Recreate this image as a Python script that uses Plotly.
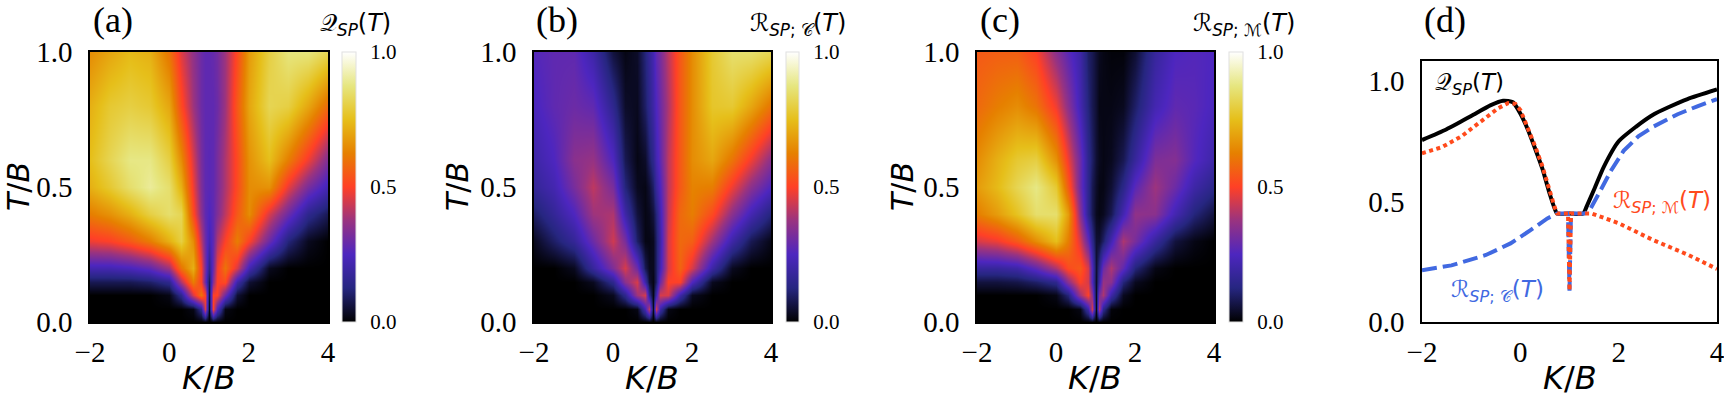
import plotly.graph_objects as go

W, H = 1724, 397

# ---------------- data ----------------
K_GRID = [-2, -1.5, -1, -0.5, 0, 0.3, 0.6, 0.8, 0.9, 1.0, 1.1, 1.2, 1.4, 1.7, 2, 2.5, 3, 3.5, 4]
T_GRID = [0, 0.05, 0.1, 0.15, 0.2, 0.3, 0.4, 0.5, 0.6, 0.8, 1.0]

Q_ROWS = [
    [0, 0, 0, 0, 0, 0, 0, 0, 0, 0, 0, 0, 0, 0, 0, 0, 0, 0, 0],
    [0, 0, 0, 0, 0, 0, 0.02, 0.15, 0.45, 0.02, 0.5, 0.25, 0.02, 0, 0, 0, 0, 0, 0],
    [0, 0, 0, 0, 0.02, 0.15, 0.45, 0.6, 0.5, 0.05, 0.5, 0.5, 0.3, 0.05, 0, 0, 0, 0, 0],
    [0.08, 0.08, 0.08, 0.1, 0.15, 0.4, 0.62, 0.5, 0.3, 0.08, 0.35, 0.5, 0.52, 0.2, 0.05, 0, 0, 0, 0],
    [0.22, 0.22, 0.24, 0.28, 0.38, 0.6, 0.72, 0.5, 0.32, 0.15, 0.3, 0.48, 0.6, 0.45, 0.22, 0.03, 0, 0, 0],
    [0.48, 0.5, 0.55, 0.62, 0.72, 0.8, 0.65, 0.42, 0.3, 0.22, 0.28, 0.4, 0.5, 0.62, 0.5, 0.3, 0.12, 0.03, 0],
    [0.62, 0.66, 0.72, 0.8, 0.85, 0.82, 0.52, 0.35, 0.28, 0.25, 0.28, 0.33, 0.42, 0.55, 0.65, 0.45, 0.3, 0.15, 0.08],
    [0.72, 0.78, 0.85, 0.9, 0.85, 0.72, 0.48, 0.33, 0.28, 0.27, 0.28, 0.32, 0.4, 0.52, 0.65, 0.66, 0.47, 0.32, 0.22],
    [0.75, 0.82, 0.88, 0.88, 0.8, 0.65, 0.45, 0.32, 0.28, 0.27, 0.28, 0.32, 0.4, 0.52, 0.66, 0.75, 0.62, 0.48, 0.33],
    [0.72, 0.78, 0.8, 0.78, 0.7, 0.52, 0.38, 0.3, 0.28, 0.28, 0.28, 0.3, 0.38, 0.55, 0.7, 0.82, 0.8, 0.7, 0.58],
    [0.65, 0.7, 0.74, 0.72, 0.6, 0.46, 0.36, 0.3, 0.28, 0.28, 0.29, 0.31, 0.38, 0.52, 0.68, 0.8, 0.87, 0.87, 0.82],
]

RC_ROWS = [
    [0, 0, 0, 0, 0, 0, 0, 0, 0, 0, 0, 0, 0, 0, 0, 0, 0, 0, 0],
    [0, 0, 0, 0, 0, 0, 0.02, 0.22, 0.42, 0.03, 0.45, 0.2, 0.02, 0, 0, 0, 0, 0, 0],
    [0, 0, 0, 0, 0.03, 0.15, 0.38, 0.45, 0.15, 0.02, 0.2, 0.45, 0.45, 0.2, 0.03, 0, 0, 0, 0],
    [0, 0, 0, 0.03, 0.15, 0.35, 0.45, 0.2, 0.05, 0.02, 0.1, 0.3, 0.5, 0.5, 0.25, 0.03, 0, 0, 0],
    [0, 0, 0.03, 0.18, 0.33, 0.45, 0.3, 0.08, 0.03, 0.03, 0.1, 0.22, 0.45, 0.57, 0.45, 0.2, 0.03, 0, 0],
    [0.03, 0.1, 0.17, 0.3, 0.44, 0.32, 0.1, 0.02, 0.02, 0.03, 0.1, 0.2, 0.45, 0.58, 0.56, 0.38, 0.2, 0.08, 0.02],
    [0.1, 0.17, 0.25, 0.38, 0.4, 0.2, 0.06, 0.02, 0.03, 0.06, 0.12, 0.22, 0.43, 0.58, 0.62, 0.52, 0.35, 0.22, 0.12],
    [0.17, 0.22, 0.32, 0.42, 0.32, 0.12, 0.03, 0.02, 0.05, 0.1, 0.18, 0.25, 0.42, 0.55, 0.63, 0.62, 0.48, 0.35, 0.25],
    [0.2, 0.25, 0.35, 0.37, 0.25, 0.08, 0.02, 0.04, 0.1, 0.15, 0.22, 0.28, 0.42, 0.55, 0.65, 0.7, 0.6, 0.48, 0.35],
    [0.24, 0.28, 0.3, 0.28, 0.15, 0.04, 0.03, 0.1, 0.15, 0.2, 0.25, 0.3, 0.4, 0.55, 0.65, 0.77, 0.78, 0.7, 0.6],
    [0.26, 0.28, 0.28, 0.2, 0.06, 0.02, 0.04, 0.12, 0.17, 0.22, 0.28, 0.32, 0.42, 0.55, 0.65, 0.78, 0.85, 0.85, 0.82],
]

RM_ROWS = [
    [0, 0, 0, 0, 0, 0, 0, 0, 0, 0, 0, 0, 0, 0, 0, 0, 0, 0, 0],
    [0, 0, 0, 0, 0, 0, 0.02, 0.2, 0.45, 0.02, 0.4, 0.15, 0.01, 0, 0, 0, 0, 0, 0],
    [0, 0, 0, 0, 0.02, 0.12, 0.38, 0.5, 0.35, 0.03, 0.32, 0.4, 0.2, 0.03, 0, 0, 0, 0, 0],
    [0.06, 0.06, 0.07, 0.1, 0.15, 0.35, 0.5, 0.45, 0.25, 0.04, 0.2, 0.37, 0.35, 0.12, 0.03, 0, 0, 0, 0],
    [0.18, 0.18, 0.2, 0.28, 0.4, 0.52, 0.55, 0.45, 0.25, 0.05, 0.15, 0.3, 0.4, 0.28, 0.12, 0.02, 0, 0, 0],
    [0.45, 0.48, 0.55, 0.65, 0.75, 0.62, 0.45, 0.28, 0.15, 0.05, 0.05, 0.1, 0.22, 0.4, 0.32, 0.18, 0.06, 0.02, 0],
    [0.62, 0.68, 0.76, 0.85, 0.85, 0.68, 0.35, 0.15, 0.08, 0.03, 0.02, 0.03, 0.08, 0.22, 0.36, 0.35, 0.22, 0.12, 0.06],
    [0.68, 0.74, 0.82, 0.88, 0.78, 0.55, 0.3, 0.15, 0.08, 0.04, 0.02, 0.02, 0.05, 0.14, 0.27, 0.38, 0.3, 0.2, 0.14],
    [0.65, 0.72, 0.78, 0.8, 0.66, 0.48, 0.3, 0.15, 0.1, 0.05, 0.03, 0.02, 0.03, 0.08, 0.18, 0.33, 0.34, 0.26, 0.2],
    [0.58, 0.62, 0.65, 0.6, 0.48, 0.35, 0.22, 0.12, 0.08, 0.05, 0.02, 0.02, 0.02, 0.03, 0.1, 0.22, 0.28, 0.27, 0.24],
    [0.55, 0.56, 0.56, 0.5, 0.35, 0.27, 0.2, 0.1, 0.08, 0.05, 0.03, 0.02, 0.01, 0.01, 0.05, 0.18, 0.25, 0.26, 0.25],
]

# panel (d) curves
Q_K = [-2, -1.5, -1, -0.6, -0.35, -0.15, 0, 0.15, 0.3, 0.45, 0.6, 0.7, 0.75, 1.0, 1.28, 1.35, 1.5, 1.7, 2.0, 2.35, 2.7, 3.0, 3.4, 4.0]
Q_V = [0.755, 0.80, 0.855, 0.90, 0.918, 0.912, 0.865, 0.80, 0.72, 0.635, 0.53, 0.47, 0.45, 0.45, 0.45, 0.48, 0.55, 0.645, 0.75, 0.81, 0.86, 0.89, 0.925, 0.965]

RC_K = [-2, -1.4, -0.7, -0.2, 0.2, 0.55, 0.75, 0.97, 1.0, 1.03, 1.3, 1.4, 1.6, 1.85, 2.1, 2.4, 2.7, 3.2, 3.6, 4.0]
RC_V = [0.215, 0.235, 0.278, 0.326, 0.38, 0.43, 0.45, 0.45, 0.13, 0.45, 0.45, 0.46, 0.534, 0.63, 0.71, 0.77, 0.81, 0.862, 0.895, 0.925]

RM_K = [-2, -1.6, -1.2, -0.8, -0.45, -0.25, -0.1, 0.0, 0.15, 0.3, 0.45, 0.6, 0.7, 0.75, 0.97, 1.0, 1.03, 1.45, 2.0, 2.7, 3.4, 4.0]
RM_V = [0.70, 0.725, 0.77, 0.83, 0.887, 0.908, 0.905, 0.88, 0.81, 0.73, 0.645, 0.54, 0.475, 0.45, 0.45, 0.13, 0.45, 0.45, 0.41, 0.34, 0.28, 0.22]

X_TICKS = [-2, 0, 2, 4]
X_TICKTEXT = ["\u22122", "0", "2", "4"]
Y_TICKS = [0, 0.5, 1.0]
Y_TICKTEXT = ["0.0", "0.5", "1.0"]

PANEL_LABELS = ["(a)", "(b)", "(c)", "(d)"]
CB_TITLES = [
    "\U0001D4AC<sub><i>SP</i></sub>(<i>T</i>)",
    "\u211B<sub><i>SP</i>; \U0001D49E</sub>(<i>T</i>)",
    "\u211B<sub><i>SP</i>; \u2133</sub>(<i>T</i>)",
]

CMR = [
    [0.0, "rgb(0,0,0)"],
    [0.125, "rgb(38,38,128)"],
    [0.25, "rgb(77,38,191)"],
    [0.375, "rgb(153,51,128)"],
    [0.5, "rgb(255,64,38)"],
    [0.625, "rgb(230,128,0)"],
    [0.75, "rgb(230,191,26)"],
    [0.875, "rgb(230,230,128)"],
    [1.0, "rgb(255,255,255)"],
]

BLUE = "#4169e1"
RED = "#ff4a1c"

# ---------------- layout geometry (pixels) ----------------
def px(x):
    return x / W

def py(y):
    return 1 - y / H

PLOTS = [(90, 328), (534, 771), (977, 1214)]
CBARS = [(342, 356), (786, 799), (1229, 1243)]
HM_TOP, HM_BOT = 52, 322
D_X = (1422, 1717)
D_TOP = 61

SERIF = "Liberation Serif"
SANS = "DejaVu Sans"

fig = go.Figure()

maps = [Q_ROWS, RC_ROWS, RM_ROWS]
for i, rows in enumerate(maps):
    sfx = "" if i == 0 else str(i + 1)
    cb0, cb1 = CBARS[i]
    fig.add_trace(go.Heatmap(
        x=K_GRID, y=T_GRID, z=rows, zmin=0, zmax=1, zsmooth="best",
        colorscale=CMR, xaxis="x" + sfx, yaxis="y" + sfx,
        colorbar=dict(
            x=px(cb0), xanchor="left", xpad=0, ypad=0,
            y=py(HM_BOT), yanchor="bottom",
            len=(HM_BOT - HM_TOP) / H, lenmode="fraction",
            thickness=cb1 - cb0, thicknessmode="pixels",
            outlinewidth=1, outlinecolor="#e0e0e0",
            tickvals=Y_TICKS, ticktext=Y_TICKTEXT,
            ticks="outside", ticklen=10, tickcolor="rgba(0,0,0,0)",
            tickfont=dict(family=SERIF, size=21, color="black"),
        ),
        hoverinfo="skip",
    ))

# panel (d)
fig.add_trace(go.Scatter(x=Q_K, y=Q_V, mode="lines", xaxis="x4", yaxis="y4",
                         line=dict(color="black", width=4, shape="spline", smoothing=0.6)))
fig.add_trace(go.Scatter(x=RC_K, y=RC_V, mode="lines", xaxis="x4", yaxis="y4",
                         line=dict(color=BLUE, width=4, dash="15px,6px")))
fig.add_trace(go.Scatter(x=RM_K, y=RM_V, mode="lines", xaxis="x4", yaxis="y4",
                         line=dict(color=RED, width=4, dash="4px,3.5px")))

axis_common = dict(
    showline=True, mirror=True, linecolor="black", linewidth=1.5,
    showgrid=False, zeroline=False, ticklabeloverflow="allow",
    tickfont=dict(family=SERIF, size=29, color="black"),
)
xaxis_common = dict(axis_common, ticks="", ticklabelstandoff=3,
                    range=[-2, 4], tickvals=X_TICKS, ticktext=X_TICKTEXT)
yaxis_common = dict(axis_common, ticks="outside", ticklen=10, tickcolor="rgba(0,0,0,0)",
                    tickvals=Y_TICKS, ticktext=Y_TICKTEXT)

layout = dict(
    width=W, height=H, margin=dict(l=0, r=0, t=0, b=0, autoexpand=False),
    paper_bgcolor="white", plot_bgcolor="white", showlegend=False,
)

for i, (x0, x1) in enumerate(PLOTS):
    sfx = "" if i == 0 else str(i + 1)
    layout["xaxis" + sfx] = dict(xaxis_common, domain=[px(x0), px(x1)], anchor="y" + sfx)
    layout["yaxis" + sfx] = dict(yaxis_common, domain=[py(HM_BOT), py(HM_TOP)], range=[0, 1],
                                 anchor="x" + sfx)

layout["xaxis4"] = dict(xaxis_common, domain=[px(D_X[0]), px(D_X[1])], anchor="y4")
layout["yaxis4"] = dict(yaxis_common, domain=[py(HM_BOT), py(D_TOP)],
                        range=[0, (HM_BOT - D_TOP) / 241.0], anchor="x4")

fig.update_layout(**layout)

def ann(text, x, y, size, family, color="black", xanchor="center", angle=0):
    fig.add_annotation(text=text, x=px(x), y=py(y), xref="paper", yref="paper",
                       xanchor=xanchor, yanchor="middle", showarrow=False,
                       textangle=angle, font=dict(family=family, size=size, color=color))

# panel labels
for lab, cx in zip(PANEL_LABELS, [113, 557, 1000, 1445]):
    ann(lab, cx, 20, 36, SERIF)

# x-axis titles
for cx in [209, 652, 1095, 1570]:
    ann("<i>K</i>/<i>B</i>", cx, 378, 32, SANS)

# y-axis titles
for cx in [18, 457, 902]:
    ann("<i>T</i>/<i>B</i>", cx, 187, 30, SANS, angle=-90)

# colorbar titles
for t, rx in zip(CB_TITLES, [393, 848, 1297]):
    ann(t, rx, 25, 24, SANS, xanchor="right")

# panel (d) curve labels
ann(CB_TITLES[0], 1433, 84, 23, SANS, xanchor="left")
ann(CB_TITLES[2], 1611, 202, 23, SANS, color=RED, xanchor="left")
ann(CB_TITLES[1], 1449, 291, 23, SANS, color=BLUE, xanchor="left")

fig.write_html("out.html", config={"displayModeBar": False},
               post_script="document.body.style.margin='0px';document.body.style.overflow='hidden';")
